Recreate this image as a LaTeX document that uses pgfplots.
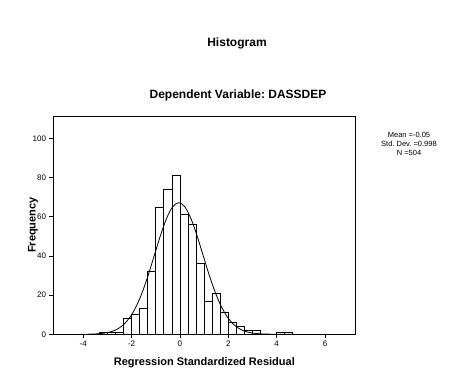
\documentclass[border=0pt]{standalone}
\usepackage{fontspec}
\setmainfont{Liberation Sans}
\usepackage{pgfplots}
\pgfplotsset{compat=1.18}
\frenchspacing
\begin{document}
\begin{tikzpicture}
\useasboundingbox (0pt,0pt) rectangle (474pt,379pt);
\node[font=\fontsize{12}{14}\selectfont\bfseries] at (237pt,335.5pt) {Histogram};
\node[font=\fontsize{12}{14}\selectfont\bfseries] at (238pt,284pt) {Dependent Variable: DASSDEP};
\node[font=\fontsize{7.5}{9}\selectfont, align=center, anchor=north] at (409pt,250pt) {Mean =-0.05\\Std. Dev. =0.998\\N =504};
\begin{axis}[
  at={(53pt,44.7pt)}, anchor=south west,
  scale only axis, width=302.7pt, height=218.3pt,
  xmin=-5.25, xmax=7.27, ymin=0, ymax=111.4,
  xtick={-4,-2,0,2,4,6}, ytick={0,20,40,60,80,100},
  xtick pos=left, ytick pos=left, tick align=outside,
  major tick length=3.5pt,
  tick style={black, line width=0.6pt},
  axis line style={line width=0.7pt, black},
  tick label style={font=\fontsize{8}{9}\selectfont},
  /pgf/number format/assume math mode=true,
  xlabel={Regression Standardized Residual},
  ylabel={Frequency},
  label style={font=\fontsize{11}{13}\selectfont\bfseries},
  xlabel style={at={(axis description cs:0.5,-0.13)}, anchor=center},
  ylabel style={at={(axis description cs:-0.066,0.5)}, anchor=center},
]
\addplot[ybar interval, fill=white, draw=black, line width=0.7pt] coordinates {
(-3.3333,1) (-3,1) (-2.6667,1) (-2.3333,8) (-2,10) (-1.6667,13) (-1.3333,32)
(-1,65) (-0.6667,74) (-0.3333,81) (0,61) (0.3333,56) (0.6667,36) (1,17)
(1.3333,21) (1.6667,11) (2,6) (2.3333,4) (2.6667,2) (3,2) (3.3333,0)
(3.6667,0) (4,1) (4.3333,1) (4.6667,0)
};
\addplot[smooth, black, line width=0.8pt] coordinates {
(-3.85,0.048) (-3.55,0.143) (-3.3,0.38) (-3.05,0.73) (-2.8,1.51) (-2.55,2.91)
(-2.3,5.29) (-2.05,9.02) (-1.8,14.44) (-1.55,21.71) (-1.3,30.65) (-1.05,40.65)
(-0.8,50.64) (-0.55,59.24) (-0.3,65.09) (-0.05,67.16) (0.2,65.09) (0.45,59.24)
(0.7,50.64) (0.95,40.65) (1.2,30.65) (1.45,21.71) (1.7,14.44) (1.95,9.02)
(2.2,5.29) (2.45,2.91) (2.7,1.51) (2.95,0.73) (3.2,0.38) (3.45,0.143)
(3.95,0.022) (4.45,0.003) (4.7,0.001)
};
\end{axis}
\end{tikzpicture}
\end{document}
